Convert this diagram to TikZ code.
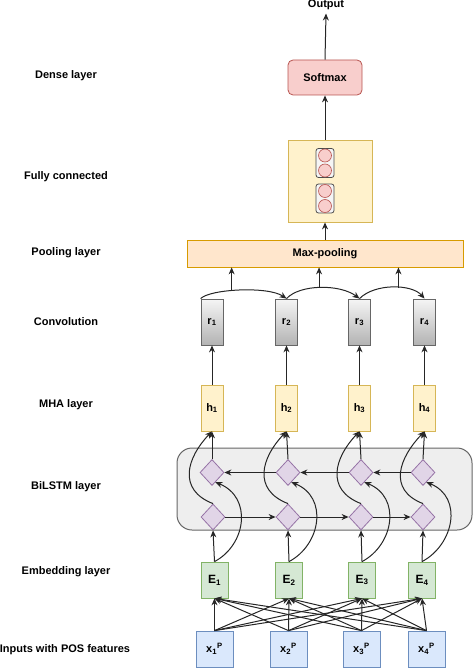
\documentclass[tikz,border=0pt]{standalone}
\usepackage{fontspec}
\setmainfont{Liberation Sans}
\usetikzlibrary{shapes.geometric,arrows.meta,calc}
\definecolor{pinkF}{HTML}{F8CECC}\definecolor{pinkS}{HTML}{B85450}
\definecolor{yelF}{HTML}{FFF2CC}\definecolor{yelS}{HTML}{D6B656}
\definecolor{orF}{HTML}{FFE6CC}\definecolor{orS}{HTML}{D79B00}
\definecolor{grT}{HTML}{F5F5F5}\definecolor{grB}{HTML}{B3B3B3}\definecolor{grS}{HTML}{666666}
\definecolor{puF}{HTML}{E1D5E7}\definecolor{puS}{HTML}{9673A6}
\definecolor{grnF}{HTML}{D5E8D4}\definecolor{grnS}{HTML}{82B366}
\definecolor{blF}{HTML}{DAE8FC}\definecolor{blS}{HTML}{6C8EBF}
\definecolor{contF}{HTML}{EEEEEE}
\begin{document}
\begin{tikzpicture}[x=1pt,y=-1pt,
  font=\fontsize{11}{13}\selectfont\bfseries,
  box/.style={draw, line width=0.8pt, inner sep=0pt, align=center},
  lab/.style={font=\fontsize{11}{13}\selectfont\bfseries, anchor=center},
  conn/.style={-{Stealth[length=7pt,width=6pt]}, line width=1pt, draw=black!85},
  dia/.style={diamond, draw=puS, fill=puF, line width=0.8pt, inner sep=0pt, minimum width=24pt, minimum height=26pt},
  rbox/.style={box, draw=grS, top color=grT, bottom color=grB, minimum width=22pt, minimum height=46pt},
  hbox/.style={box, draw=yelS, fill=yelF, minimum width=22pt, minimum height=46pt},
  ebox/.style={box, draw=grnS, fill=grnF, minimum width=27pt, minimum height=36pt, font=\fontsize{12}{14}\selectfont\bfseries},
  xbox/.style={box, draw=blS, fill=blF, minimum width=37pt, minimum height=36pt},
  circ/.style={circle, draw=pinkS, fill=pinkF, line width=0.6pt, minimum size=13pt, inner sep=0pt}
]
\useasboundingbox (0,0) rectangle (474,668);

% left labels
\node[lab] (l1) at (66,76) {Dense layer};
\node[lab] (l2) at (66,177) {Fully connected};
\node[lab] (l3) at (66,253) {Pooling layer};
\node[lab] (l4) at (66,322) {Convolution};
\node[lab] (l5) at (66,405) {MHA layer};
\node[lab] (l6) at (66,487) {BiLSTM layer};
\node[lab] (l7) at (66,572) {Embedding layer};
\node[lab] (l8) at (65,650) {Inputs with POS features};

% top part
\node[lab] (out) at (326,5) {Output};
\node[box, draw=pinkS, fill=pinkF, rounded corners=5pt, minimum width=74pt, minimum height=35pt] (soft) at (325,77.5) {Softmax};
\node[box, draw=yelS, fill=yelF, minimum width=84pt, minimum height=82pt] (fc) at (330,181) {};
\node[box, draw=black!70, fill=grT, rounded corners=2.5pt, minimum width=18pt, minimum height=29pt] (g1) at (325,163) {};
\node[box, draw=black!70, fill=grT, rounded corners=2.5pt, minimum width=18pt, minimum height=29pt] (g2) at (325,198.5) {};
\node[circ] (c1) at (325,155.5) {};
\node[circ] (c2) at (325,170.5) {};
\node[circ] (c3) at (325,191) {};
\node[circ] (c4) at (325,206) {};
\node[box, draw=orS, fill=orF, minimum width=276pt, minimum height=27pt] (pool) at (325,253.5) {Max-pooling};

\draw[conn] (soft.north) -- (out.south);
\draw[conn] (fc.north -| soft.north) -- (soft.south);
\draw[conn] (pool.north -| soft.north) -- (fc.south -| soft.north);

% convolution
\node[rbox] (r1) at (212,322) {r\textsubscript{1}};
\node[rbox] (r2) at (286.5,322) {r\textsubscript{2}};
\node[rbox] (r3) at (359.5,322) {r\textsubscript{3}};
\node[rbox] (r4) at (424.5,322) {r\textsubscript{4}};

% MHA
\node[hbox] (h1) at (212,408) {h\textsubscript{1}};
\node[hbox] (h2) at (286.5,408) {h\textsubscript{2}};
\node[hbox] (h3) at (359.5,408) {h\textsubscript{3}};
\node[hbox] (h4) at (424.5,408) {h\textsubscript{4}};

% BiLSTM container
\node[box, draw=grS, fill=contF, rounded corners=15pt, line width=1pt, minimum width=295pt, minimum height=82pt] (bil) at (324.5,489) {};
\node[dia] (u1) at (212,472.5) {};
\node[dia] (u2) at (288,472.5) {};
\node[dia] (u3) at (361,472.5) {};
\node[dia] (u4) at (423,472.5) {};
\node[dia] (d1) at (213,517) {};
\node[dia] (d2) at (288,517) {};
\node[dia] (d3) at (361,517) {};
\node[dia] (d4) at (423,517) {};

% Embedding
\node[ebox] (e1) at (214.5,580) {E\textsubscript{1}};
\node[ebox] (e2) at (289,580) {E\textsubscript{2}};
\node[ebox] (e3) at (362,580) {E\textsubscript{3}};
\node[ebox] (e4) at (422,580) {E\textsubscript{4}};

% Inputs
\node[xbox] (x1) at (214.5,649) {x\textsubscript{1}\textsuperscript{P}};
\node[xbox] (x2) at (288.5,649) {x\textsubscript{2}\textsuperscript{P}};
\node[xbox] (x3) at (361.5,649) {x\textsubscript{3}\textsuperscript{P}};
\node[xbox] (x4) at (426.5,649) {x\textsubscript{4}\textsuperscript{P}};

% convolution chain curves
\draw[conn] (r1.north west) .. controls (210,289) and (268,286) .. coordinate[pos=0.42] (k1) (r2.north);
\draw[conn] (r2.north) .. controls (300,284) and (340,284) .. coordinate[pos=0.48] (k2) (r3.north);
\draw[conn] (r3.north) .. controls (375,283) and (412,284) .. coordinate[pos=0.57] (k3) (r4.north);
\draw[conn] (k1) -- (k1 |- pool.south);
\draw[conn] (k2) -- (k2 |- pool.south);
\draw[conn] (k3) -- (k3 |- pool.south);

% h -> r
\foreach \i in {1,2,3,4} {
  \draw[conn] (h\i.north) -- (r\i.south);
}

% BiLSTM internal
\draw[conn] (u2.west) -- (u1.east);
\draw[conn] (u3.west) -- (u2.east);
\draw[conn] (u4.west) -- (u3.east);
\draw[conn] (d1.east) -- (d2.west);
\draw[conn] (d2.east) -- (d3.west);
\draw[conn] (d3.east) -- (d4.west);

\foreach \i in {1,2,3,4} {
  \draw[conn] (u\i.north) -- (h\i.south);
  \draw[conn] (d\i.north) .. controls +(-36,-14) and +(-25,26) .. (h\i.south);
  \draw[conn] (e\i.north) .. controls +(32,-17) and +(37,15) .. ($(u\i.south)!0.55!(u\i.south east)$);
  \draw[conn] (e\i.north) -- (d\i.south);
}

% inputs -> embeddings
\foreach \i in {1,2,3,4} {
  \foreach \j in {1,2,3,4} {
    \draw[conn] (x\i.north) -- (e\j.south);
  }
}
\end{tikzpicture}
\end{document}
